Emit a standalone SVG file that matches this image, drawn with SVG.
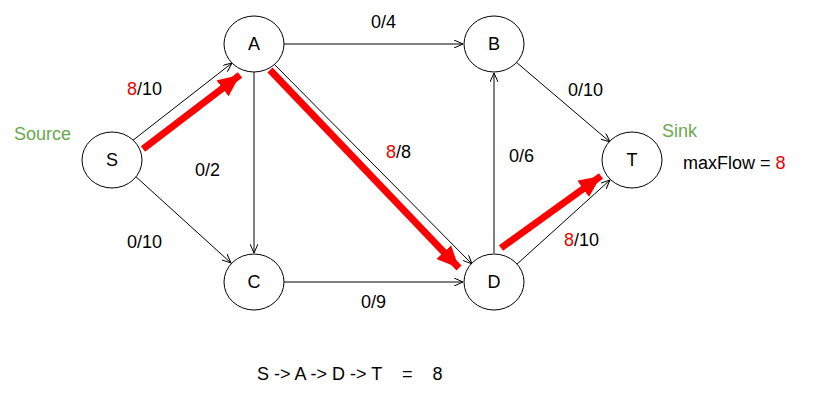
<svg xmlns="http://www.w3.org/2000/svg" width="828" height="401" viewBox="0 0 828 401">
<style>
.n{fill:#fff;stroke:#000;stroke-width:1}
.t{font-family:"Liberation Sans",Arial,sans-serif;font-size:18px;fill:#000}
.r{fill:#e00}
.g{fill:#6aa84f}
.e{stroke:#000;stroke-width:1;fill:none;marker-end:url(#a)}
.f{stroke:#f00;stroke-width:7;fill:none;marker-end:url(#b)}
</style>
<defs>
<marker id="a" markerWidth="10" markerHeight="8" refX="9" refY="4" orient="auto" markerUnits="userSpaceOnUse"><path d="M0,0 L9,4 L0,8" fill="none" stroke="#000"/></marker>
<marker id="b" markerWidth="24" markerHeight="20" refX="22" refY="10" orient="auto" markerUnits="userSpaceOnUse"><path d="M0,0 L22,10 L0,20 Z" fill="#f00"/></marker>
</defs>
<rect width="828" height="401" fill="#fff"/>
<g id="connectors">
<line class="e" x1="132" y1="141" x2="232" y2="63"/>
<line class="e" x1="134" y1="175" x2="231" y2="263"/>
<line class="e" x1="284" y1="44" x2="463" y2="44"/>
<line class="e" x1="254" y1="72" x2="254" y2="253"/>
<line class="e" x1="274" y1="64" x2="472" y2="264"/>
<line class="e" x1="284" y1="282" x2="463" y2="282"/>
<line class="e" x1="494" y1="253" x2="494" y2="73"/>
<line class="e" x1="516" y1="62" x2="610" y2="142"/>
<line class="e" x1="516" y1="265" x2="610" y2="180"/>
<line class="f" x1="143" y1="149" x2="240" y2="75"/>
<line class="f" x1="270" y1="70" x2="459" y2="268"/>
<line class="f" x1="501" y1="248" x2="601" y2="176"/>
</g>
<g id="S"><ellipse class="n" cx="112" cy="160" rx="30" ry="28"/><text class="t" x="112" y="166" text-anchor="middle">S</text></g>
<g id="A"><ellipse class="n" cx="254" cy="44" rx="30" ry="28"/><text class="t" x="254" y="50" text-anchor="middle">A</text></g>
<g id="B"><ellipse class="n" cx="494" cy="44" rx="30" ry="28"/><text class="t" x="494" y="50" text-anchor="middle">B</text></g>
<g id="C"><ellipse class="n" cx="254" cy="282" rx="30" ry="28"/><text class="t" x="254" y="288" text-anchor="middle">C</text></g>
<g id="D"><ellipse class="n" cx="494" cy="282" rx="30" ry="28"/><text class="t" x="494" y="288" text-anchor="middle">D</text></g>
<g id="T"><ellipse class="n" cx="632" cy="160" rx="30" ry="28"/><text class="t" x="632" y="166" text-anchor="middle">T</text></g>
<g id="labels">
<text class="t" x="127" y="95"><tspan class="r">8</tspan>/10</text>
<text class="t g" x="14" y="140">Source</text>
<text class="t" x="195" y="176">0/2</text>
<text class="t" x="127" y="248">0/10</text>
<text class="t" x="371" y="28">0/4</text>
<text class="t" x="568" y="96">0/10</text>
<text class="t" x="386" y="158"><tspan class="r">8</tspan>/8</text>
<text class="t" x="509" y="162">0/6</text>
<text class="t" x="564" y="246"><tspan class="r">8</tspan>/10</text>
<text class="t" x="361" y="308">0/9</text>
<text class="t g" x="662" y="137">Sink</text>
<text class="t" x="683" y="169">maxFlow = <tspan class="r">8</tspan></text>
<text class="t" x="257" y="380" xml:space="preserve">S -&gt; A -&gt; D -&gt; T    =    8</text>
</g>
</svg>
